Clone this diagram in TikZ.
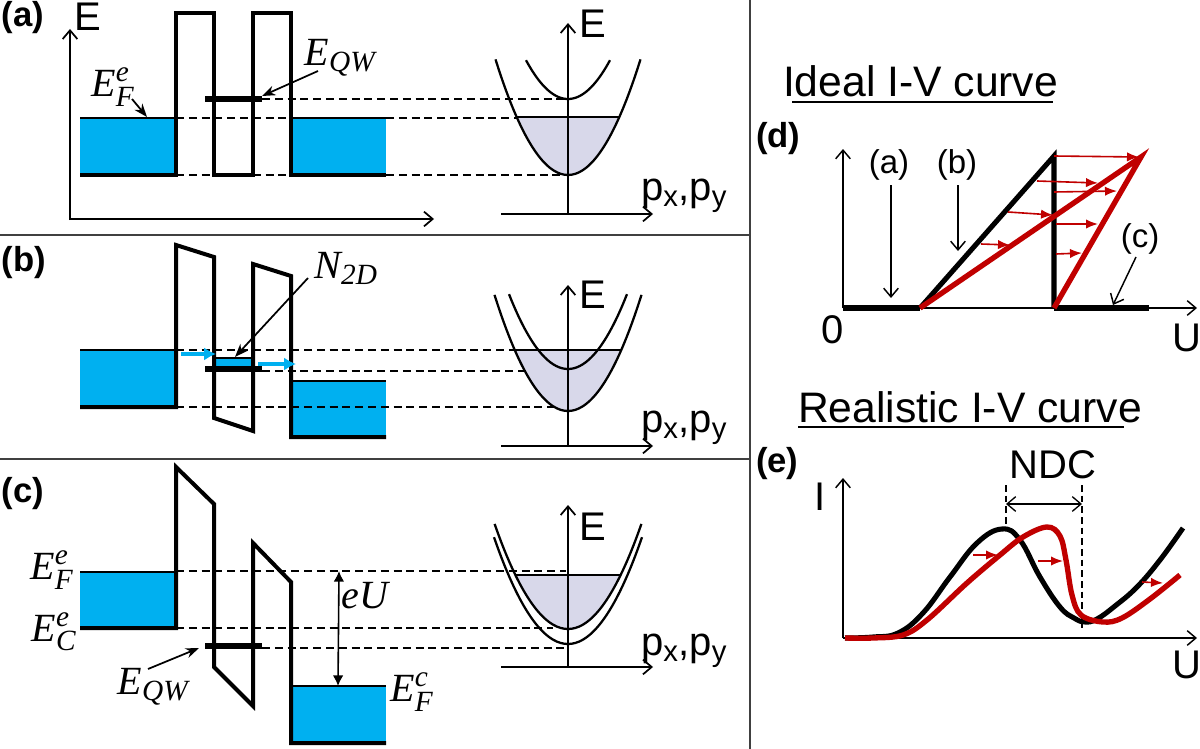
\documentclass[tikz,border=0pt]{standalone}
\usepackage{fix-cm}
\usepackage{fontspec}
\setmainfont{Liberation Sans}
\setmathrm{Liberation Serif}
\DeclareMathSizes{30}{30}{22}{16}
\usetikzlibrary{arrows.meta}

\definecolor{wellblue}{HTML}{00B0F0}
\definecolor{fermi}{HTML}{D8D8EA}
\definecolor{shiftred}{HTML}{C00000}
\definecolor{rulegrey}{HTML}{404040}

% one px of the reference is .75pt
\newcommand{\fpx}[1]{\fontsize{#1}{#1}\selectfont}
\newcommand{\bandcurve}[4]{% x0, y vertex, a, half width
	\draw[band] plot[domain=-#4:#4,samples=41,smooth] ({#1+\x},{#2-#3*\x*\x});}
\newcommand{\bandfill}[4]{%
	\fill[fermi] plot[domain=-#4:#4,samples=31,smooth] ({#1+\x},{#2-#3*\x*\x}) -- cycle;}

\begin{document}
\begin{tikzpicture}[
		x=.75pt,y=-.75pt,
		every node/.style={inner sep=0pt,outer sep=0pt},
		panel/.style={draw=rulegrey,line width=1.3pt},
		axis/.style={line width=1.4pt,-{Straight Barb[length=6.5pt,width=11pt,line width=1.3pt]}},
		profile/.style={line width=3pt,line join=miter},
		qwlevel/.style={line width=4.6pt},
		fermiline/.style={line width=2pt},
		guide/.style={line width=1.2pt,dash pattern=on 6pt off 3.6pt},
		band/.style={line width=1.7pt},
		ptr/.style={line width=1.3pt,-{Stealth[length=10pt,width=7.5pt]}},
		note/.style={line width=1.1pt,-{Straight Barb[length=6.5pt,width=11pt,line width=1.1pt]}},
		tunnel/.style={wellblue,line width=2.8pt,-{Latex[length=9pt,width=10pt]}},
		redshift/.style={shiftred,line width=1.2pt,-{Latex[length=9pt,width=7pt]}},
		redline/.style={shiftred,line width=4pt},
		blackline/.style={line width=3.8pt},
		big/.style={font=\fpx{30}},
		tag/.style={font=\fpx{26}\bfseries},
		small/.style={font=\fpx{24.75}},
		title/.style={font=\fpx{32}},
		sym/.style={font=\fpx{30}},
	]
	\useasboundingbox (0,0) rectangle (1200,749);

	% panel rules
	\draw[panel] (0,235) -- (750,235);
	\draw[panel] (0,459) -- (750,459);
	\draw[panel] (750,0) -- (750,749);

	%% (a)
	\fill[wellblue] (80,118) rectangle (176,175);
	\fill[wellblue] (291,118) rectangle (386,175);
	\draw[fermiline] (80,118) -- (176,118);
	\draw[fermiline] (291,118) -- (386,118);
	\draw[guide] (262,99) -- (566,99);
	\draw[guide] (176,118) -- (291,118) (386,118) -- (516,118);
	\draw[guide] (176,175) -- (291,175) (386,175) -- (566,175);
	\draw[profile] (80,175) -- (176,175) -- (176,13) -- (214,13) -- (214,175) -- (253,175)
		-- (253,13) -- (291,13) -- (291,175) -- (386,175);
	\draw[qwlevel] (205,99) -- (262,99);
	\draw[axis] (70,220) -- (70,29);
	\draw[axis] (70,219) -- (434,219);
	\node[tag,anchor=base west] (tagA) at (2,27) {(a)};
	\node[big,anchor=base west] (eA) at (74,31) {E};
	\node[sym] (fermiA) at (113,87) {$\mathit{E}_{\mathit{F}}^{\mathit{e}}$};
	\node[sym] (qwA) at (340,58) {$\mathit{E}_{\mathit{QW}}$};
	\coordinate (fermiTipA) at (147,117);
	\coordinate (qwTipA) at (262,96);
	\draw[ptr] (132,99) -- (fermiTipA);
	\draw[ptr] (318,71) -- (qwTipA);

	\bandfill{568}{175}{.022}{51.3}
	\bandcurve{568}{175}{.022}{72.5}
	\bandcurve{568}{99}{.022}{42}
	\draw[fermiline] (517,117) -- (619,117);
	\draw[axis] (568,214) -- (568,23);
	\draw[axis] (501,214) -- (653,214);
	\node[big,anchor=base west] (eDispA) at (579,38) {E};
	\node[big,anchor=base west] (pA) at (641,200) {p\textsubscript{x},p\textsubscript{y}};

	%% (b)
	\fill[wellblue] (80,350) rectangle (176,407);
	\fill[wellblue] (291,381) rectangle (386,437);
	\fill[wellblue] (214,358) rectangle (253,367);
	\draw[fermiline] (80,350) -- (176,350);
	\draw[fermiline] (291,381) -- (386,381);
	\draw[fermiline] (214,358) -- (253,358);
	\draw[guide] (176,350) -- (566,350);
	\draw[guide] (262,371) -- (566,371);
	\draw[guide] (176,407) -- (566,407);
	\draw[profile] (80,407) -- (176,407) -- (176,245) -- (214,257) -- (214,418) -- (253,431)
		-- (253,264) -- (291,276) -- (291,437) -- (386,437);
	\draw[qwlevel] (205,369) -- (262,369);
	\node[tag,anchor=base west] (tagB) at (2,271) {(b)};
	\node[sym] (nTwoD) at (346,268) {$\mathit{N}_{\mathit{2D}}$};
	\coordinate (nTip) at (235,357);
	\draw[ptr] (308,278) -- (nTip);
	\coordinate (inL) at (181,354);
	\coordinate (inR) at (216,354);
	\coordinate (outL) at (258,364);
	\coordinate (outR) at (296,364);
	\draw[tunnel] (inL) -- (inR);
	\draw[tunnel] (outL) -- (outR);

	\bandfill{568}{411}{.0215}{53.3}
	\bandcurve{568}{411}{.0215}{73.5}
	\bandcurve{568}{369}{.0215}{59}
	\draw[fermiline] (514,350) -- (621,350);
	\draw[axis] (568,446) -- (568,285);
	\draw[axis] (501,446) -- (653,446);
	\node[big,anchor=base west] (eDispB) at (579,308) {E};
	\node[big,anchor=base west] (pB) at (641,432) {p\textsubscript{x},p\textsubscript{y}};

	%% (c)
	\fill[wellblue] (80,572) rectangle (176,628);
	\fill[wellblue] (291,686) rectangle (386,743);
	\draw[fermiline] (80,572) -- (176,572);
	\draw[fermiline] (291,686) -- (386,686);
	\draw[guide] (176,571) -- (566,571);
	\draw[guide] (176,628) -- (553,628);
	\draw[guide] (262,648) -- (566,648);
	\draw[profile] (80,628) -- (176,628) -- (176,467) -- (214,504) -- (214,667) -- (253,706)
		-- (253,543) -- (291,582) -- (291,743) -- (386,743);
	\draw[qwlevel] (205,646) -- (262,646);
	\node[tag,anchor=base west] (tagC) at (2,502) {(c)};
	\node[sym] (fermiCe) at (52,570) {$\mathit{E}_{\mathit{F}}^{\mathit{e}}$};
	\node[sym] (condCe) at (54,632) {$\mathit{E}_{\mathit{C}}^{\mathit{e}}$};
	\node[sym] (qwC) at (153,687) {$\mathit{E}_{\mathit{QW}}$};
	\node[sym] (eu) at (365,596) {$\mathit{eU}$};
	\node[sym] (fermiCc) at (412,692) {$\mathit{E}_{\mathit{F}}^{\mathit{c}}$};
	\coordinate (qwTipC) at (199,648);
	\draw[ptr] (148,669) -- (qwTipC);
	\coordinate (euTop) at (339,571);
	\coordinate (euBot) at (338,686);
	\draw[line width=1.2pt,{Latex[length=8pt,width=8pt]}-{Latex[length=8pt,width=8pt]}] (euTop) -- (euBot);

	\bandfill{568}{629}{.0195}{52.6}
	\bandcurve{568}{644}{.0195}{74}
	\bandcurve{568}{629}{.0195}{73.4}
	\draw[fermiline] (515,575) -- (621,575);
	\draw[axis] (568,667) -- (568,505);
	\draw[axis] (501,667) -- (653,667);
	\node[big,anchor=base west] (eDispC) at (579,540) {E};
	\node[big,anchor=base west] (pC) at (641,655) {p\textsubscript{x},p\textsubscript{y}};

	%% (d)
	\node[title,anchor=base west] (titleD) at (783,97) {Ideal I-V curve};
	\draw[line width=2pt] (792,102) -- (1053,102);
	\node[tag,anchor=base west] (tagD) at (756,147) {(d)};
	\draw[note] (843,308) -- (843,149);
	\draw[note] (843,308) -- (1197,308);
	\draw[blackline] (843,308) -- (920,308);
	\draw[blackline] (1054,308) -- (1149,308);
	\draw[blackline] (920,308) -- (1054,156) -- (1054,308);
	\coordinate (redStart) at (920,308);
	\coordinate (redEnd) at (1054,308);
	\coordinate (redTop) at (1141,157);
	\draw[redline] (redStart) -- (redTop) -- (redEnd);
	\draw[redshift] (1054,156) -- (1139,157);
	\draw[redshift] (1037,181) -- (1098,183);
	\draw[redshift] (1054,192) -- (1117,191);
	\draw[redshift] (1008,212) -- (1053,215);
	\draw[redshift] (1056,224) -- (1098,224);
	\draw[redshift] (981,244) -- (1010,245);
	\draw[redshift] (1056,254) -- (1082,253);
	\node[small,anchor=base] (labA) at (889,173) {(a)};
	\node[small,anchor=base] (labB) at (957,173) {(b)};
	\node[small,anchor=base] (labC) at (1140,247) {(c)};
	\coordinate (tipA) at (891,298);
	\coordinate (tipB) at (958,251);
	\coordinate (tipC) at (1113,305);
	\draw[note] (891,185) -- (tipA);
	\draw[note] (958,185) -- (tipB);
	\draw[note] (1136,257) -- (tipC);
	\node[big,anchor=base] (zero) at (833,343) {0};
	\node[big,anchor=base] (uD) at (1187,351) {U};

	%% (e)
	\node[title,anchor=base west] (titleE) at (798,422) {Realistic I-V curve};
	\draw[line width=2pt] (798,427) -- (1124,427);
	\node[tag,anchor=base west] (tagE) at (756,472) {(e)};
	\node[big,anchor=base] (iE) at (820,510) {I};
	\node[big,anchor=base] (ndc) at (1053,478) {NDC};
	\draw[note] (843,638) -- (843,478);
	\draw[note] (843,638) -- (1197,638);
	\draw[line width=1pt,dash pattern=on 5pt off 3pt] (1006,485) -- (1006,528);
	\draw[line width=1pt,dash pattern=on 5pt off 3pt] (1082,485) -- (1082,628);
	\coordinate (ndcL) at (1006,504);
	\coordinate (ndcR) at (1082,504);
	\draw[line width=1pt,{Straight Barb[length=6.5pt,width=11pt,line width=1pt]}-{Straight Barb[length=6.5pt,width=11pt,line width=1pt]}] (ndcL) -- (ndcR);
	\draw[blackline] plot[smooth,tension=.7] coordinates {
		(845,638) (873,637) (898,633) (923,613) (950,577) (977,543) (1002,529) (1020,540)
		(1040,577) (1060,607) (1074,618) (1085,622) (1097,619) (1115,606) (1137,587) (1160,560) (1183,528)};
	\draw[redline] plot[smooth,tension=.6] coordinates {
		(845,638) (873,638) (903,635) (927,620) (967,583) (1000,555) (1023,537) (1047,527)
		(1060,536) (1066,560) (1072,595) (1081,615) (1103,622) (1122,618) (1150,599) (1180,575)};
	\draw[redshift] (973,555) -- (998,555);
	\draw[redshift] (1038,561) -- (1063,561);
	\draw[redshift] (1142,582) -- (1163,583);
	\node[big,anchor=base] (uE) at (1187,678) {U};
\end{tikzpicture}
\end{document}
